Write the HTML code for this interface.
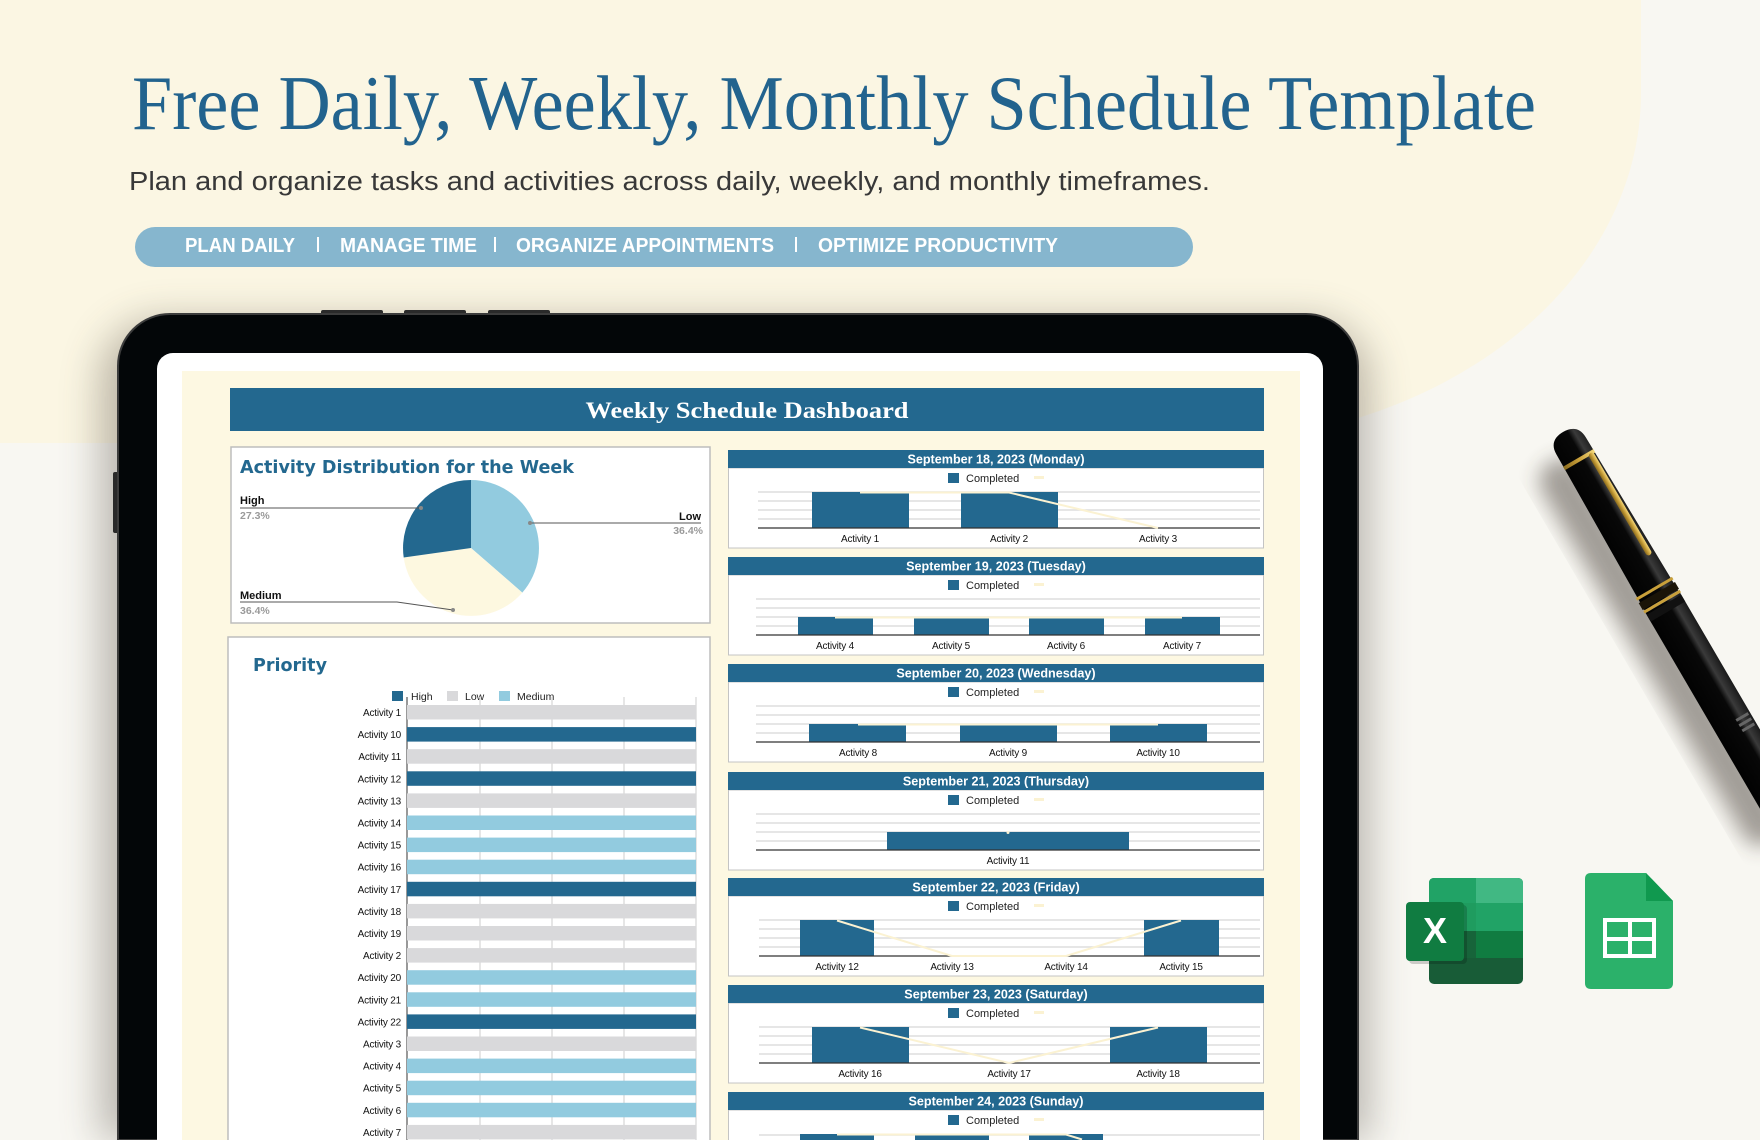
<!DOCTYPE html>
<html><head><meta charset="utf-8"><style>
html,body{margin:0;padding:0;background:#F8F7F2;width:1760px;height:1140px;overflow:hidden;}
#wrap{width:1760px;height:1140px;overflow:hidden;position:relative;}
svg{display:block;}
</style></head><body><div id="wrap">
<svg width="1760" height="1140" viewBox="0 0 1760 1140" xmlns="http://www.w3.org/2000/svg" overflow="hidden">
<defs>
<filter id="blur20" x="-20%" y="-20%" width="140%" height="140%"><feGaussianBlur stdDeviation="20"/></filter>
<filter id="blur10" x="-30%" y="-30%" width="160%" height="160%"><feGaussianBlur stdDeviation="10"/></filter>
<linearGradient id="gold" x1="0" y1="0" x2="0" y2="1"><stop offset="0" stop-color="#f3d77a"/><stop offset="0.5" stop-color="#c9a03a"/><stop offset="1" stop-color="#8a6a1c"/></linearGradient>
<linearGradient id="penbody" x1="0" y1="0" x2="0" y2="1"><stop offset="0" stop-color="#1a1a1a"/><stop offset="0.25" stop-color="#3a3a3a"/><stop offset="0.4" stop-color="#080808"/><stop offset="1" stop-color="#020202"/></linearGradient>
<clipPath id="frame"><rect x="0" y="0" width="1760" height="1140"/></clipPath>
</defs>

<!-- background -->
<rect x="0" y="0" width="1760" height="1140" fill="#F8F7F2"/>
<path d="M0,0 H1641 V93 A450,350 0 0 1 1191,443 H0 Z" fill="#FBF6E3"/>

<!-- heading -->
<text x="132" y="129" font-family="Liberation Serif, serif" font-size="77" fill="#22638E" textLength="1404" lengthAdjust="spacingAndGlyphs">Free Daily, Weekly, Monthly Schedule Template</text>
<text x="129" y="190" font-family="Liberation Sans, sans-serif" font-size="25.5" fill="#383838" textLength="1081" lengthAdjust="spacingAndGlyphs">Plan and organize tasks and activities across daily, weekly, and monthly timeframes.</text>

<!-- pill -->
<rect x="135" y="227" width="1058" height="40" rx="20" fill="#86B6CE"/>
<g font-family="Liberation Sans, sans-serif" font-weight="bold" font-size="20.5" fill="#ffffff">
<text x="185" y="252" textLength="110" lengthAdjust="spacingAndGlyphs">PLAN DAILY</text>
<text x="340" y="252" textLength="137" lengthAdjust="spacingAndGlyphs">MANAGE TIME</text>
<text x="516" y="252" textLength="258" lengthAdjust="spacingAndGlyphs">ORGANIZE APPOINTMENTS</text>
<text x="818" y="252" textLength="240" lengthAdjust="spacingAndGlyphs">OPTIMIZE PRODUCTIVITY</text>
</g>
<rect x="317" y="237" width="2" height="15" fill="#ffffff"/>
<rect x="494" y="237" width="2" height="15" fill="#ffffff"/>
<rect x="795" y="237" width="2" height="15" fill="#ffffff"/>

<g clip-path="url(#frame)">
<!-- tablet shadow -->
<path d="M100,380 A60,60 0 0 1 160,320 H1310 A60,60 0 0 1 1370,380 V1140 H100 Z" fill="#4a4038" opacity="0.35" filter="url(#blur20)"/>
</g>
<!-- tablet buttons -->
<rect x="321" y="310" width="62" height="6" rx="2" fill="#2a2a2a"/>
<rect x="404" y="310" width="62" height="6" rx="2" fill="#2a2a2a"/>
<rect x="488" y="310" width="62" height="6" rx="2" fill="#2a2a2a"/>
<rect x="113" y="472" width="7" height="61" rx="2" fill="#2a2a2a"/>
<!-- tablet -->
<path d="M118,366 A52,52 0 0 1 170,314 H1306 A52,52 0 0 1 1358,366 V1140 H118 Z" fill="#030608" stroke="#3c3c3c" stroke-width="2"/>
<path d="M157,369 A16,16 0 0 1 173,353 H1307 A16,16 0 0 1 1323,369 V1140 H157 Z" fill="#ffffff"/>
<rect x="182" y="371" width="1118" height="769" fill="#FDF8E2"/>

<!-- banner -->
<rect x="230" y="388" width="1034" height="43" fill="#23688F"/>
<text x="747" y="418" text-anchor="middle" font-family="Liberation Serif, serif" font-weight="bold" font-size="23" fill="#ffffff" textLength="323" lengthAdjust="spacingAndGlyphs">Weekly Schedule Dashboard</text>

<!-- pie panel -->
<rect x="231" y="447" width="479" height="176" fill="#ffffff" stroke="#bdbdbd" stroke-width="1.5"/>
<text x="240" y="473" font-family="DejaVu Sans, sans-serif" font-weight="bold" font-size="17.5" fill="#23688F" textLength="334" lengthAdjust="spacingAndGlyphs">Activity Distribution for the Week</text>
<path d="M471,548 L471,480 A68,68 0 0 1 522.3,592.6 Z" fill="#92CBDF"/>
<path d="M471,548 L522.3,592.6 A68,68 0 0 1 403.7,557.5 Z" fill="#FDF8E0"/>
<path d="M471,548 L403.7,557.5 A68,68 0 0 1 471,480 Z" fill="#23688F"/>
<g font-family="Liberation Sans, sans-serif" font-weight="bold">
<text x="240" y="504" font-size="11" fill="#111">High</text>
<text x="240" y="519" font-size="10.5" fill="#9a9a9a">27.3%</text>
<text x="701" y="520" font-size="11" fill="#111" text-anchor="end">Low</text>
<text x="703" y="534" font-size="10.5" fill="#9a9a9a" text-anchor="end">36.4%</text>
<text x="240" y="599" font-size="11" fill="#111">Medium</text>
<text x="240" y="614" font-size="10.5" fill="#9a9a9a">36.4%</text>
</g>
<polyline points="240,508 421,508" fill="none" stroke="#555" stroke-width="1"/>
<circle cx="421" cy="508" r="2" fill="#888"/>
<polyline points="530,523 701,523" fill="none" stroke="#555" stroke-width="1"/>
<circle cx="530" cy="523" r="2" fill="#888"/>
<polyline points="240,602 397,602 453,610" fill="none" stroke="#555" stroke-width="1"/>
<circle cx="453" cy="610" r="2" fill="#888"/>

<!-- priority panel -->
<rect x="228" y="637" width="482" height="503" fill="#ffffff"/>
<polyline points="228,1140 228,637 710,637 710,1140" fill="none" stroke="#bdbdbd" stroke-width="1.5"/>
<text x="253" y="671" font-family="DejaVu Sans, sans-serif" font-weight="bold" font-size="17.5" fill="#23688F" textLength="74" lengthAdjust="spacingAndGlyphs">Priority</text>
<rect x="392" y="691" width="11" height="10" fill="#23688F"/>
<rect x="447" y="691" width="11" height="10" fill="#D9D9DB"/>
<rect x="499" y="691" width="11" height="10" fill="#92CBDF"/>
<g font-family="Liberation Sans, sans-serif" font-size="10.5" fill="#222">
<text x="411" y="700">High</text>
<text x="465" y="700">Low</text>
<text x="517" y="700">Medium</text>
</g>
<g stroke="#dddddd" stroke-width="1.5">
<line x1="480" y1="697" x2="480" y2="1140"/>
<line x1="552" y1="697" x2="552" y2="1140"/>
<line x1="624" y1="697" x2="624" y2="1140"/>
<line x1="696" y1="697" x2="696" y2="1140"/>
</g>
<line x1="407" y1="697" x2="407" y2="1140" stroke="#333" stroke-width="1"/>
<g>
<rect x="407" y="705" width="289" height="14.5" fill="#D9D9DB"/>
<rect x="407" y="727.1" width="289" height="14.5" fill="#23688F"/>
<rect x="407" y="749.2" width="289" height="14.5" fill="#D9D9DB"/>
<rect x="407" y="771.3" width="289" height="14.5" fill="#23688F"/>
<rect x="407" y="793.4" width="289" height="14.5" fill="#D9D9DB"/>
<rect x="407" y="815.5" width="289" height="14.5" fill="#92CBDF"/>
<rect x="407" y="837.6" width="289" height="14.5" fill="#92CBDF"/>
<rect x="407" y="859.7" width="289" height="14.5" fill="#92CBDF"/>
<rect x="407" y="881.8" width="289" height="14.5" fill="#23688F"/>
<rect x="407" y="903.9" width="289" height="14.5" fill="#D9D9DB"/>
<rect x="407" y="926" width="289" height="14.5" fill="#D9D9DB"/>
<rect x="407" y="948.1" width="289" height="14.5" fill="#D9D9DB"/>
<rect x="407" y="970.2" width="289" height="14.5" fill="#92CBDF"/>
<rect x="407" y="992.3" width="289" height="14.5" fill="#92CBDF"/>
<rect x="407" y="1014.4" width="289" height="14.5" fill="#23688F"/>
<rect x="407" y="1036.5" width="289" height="14.5" fill="#D9D9DB"/>
<rect x="407" y="1058.6" width="289" height="14.5" fill="#92CBDF"/>
<rect x="407" y="1080.7" width="289" height="14.5" fill="#92CBDF"/>
<rect x="407" y="1102.8" width="289" height="14.5" fill="#92CBDF"/>
<rect x="407" y="1124.9" width="289" height="14.5" fill="#D9D9DB"/>
</g>
<g font-family="Liberation Sans, sans-serif" font-size="10" fill="#111" text-anchor="end" letter-spacing="-0.2">
<text x="401" y="716">Activity 1</text>
<text x="401" y="738.1">Activity 10</text>
<text x="401" y="760.2">Activity 11</text>
<text x="401" y="782.3">Activity 12</text>
<text x="401" y="804.4">Activity 13</text>
<text x="401" y="826.5">Activity 14</text>
<text x="401" y="848.6">Activity 15</text>
<text x="401" y="870.7">Activity 16</text>
<text x="401" y="892.8">Activity 17</text>
<text x="401" y="914.9">Activity 18</text>
<text x="401" y="937">Activity 19</text>
<text x="401" y="959.1">Activity 2</text>
<text x="401" y="981.2">Activity 20</text>
<text x="401" y="1003.3">Activity 21</text>
<text x="401" y="1025.4">Activity 22</text>
<text x="401" y="1047.5">Activity 3</text>
<text x="401" y="1069.6">Activity 4</text>
<text x="401" y="1091.7">Activity 5</text>
<text x="401" y="1113.8">Activity 6</text>
<text x="401" y="1135.9">Activity 7</text>
</g>

<!-- DAY PANELS -->
<!-- Monday H=450 -->
<g transform="translate(0,450)">
<rect x="728.5" y="18" width="535" height="80" fill="#fff" stroke="#c4c4c4"/>
<rect x="728" y="0" width="536" height="18" fill="#23688F"/>
<text x="996" y="13.5" text-anchor="middle" font-family="Liberation Sans, sans-serif" font-weight="bold" font-size="12.6" fill="#fff">September 18, 2023 (Monday)</text>
<rect x="948" y="23" width="11" height="10" fill="#23688F"/><text x="966" y="32" font-family="Liberation Sans, sans-serif" font-size="11" fill="#222">Completed</text><line x1="1034" y1="27.5" x2="1044" y2="27.5" stroke="#FBF2D2" stroke-width="3"/>
<g stroke="#dedede" stroke-width="1.6"><line x1="758" y1="42" x2="1260" y2="42"/><line x1="758" y1="51" x2="1260" y2="51"/><line x1="758" y1="60" x2="1260" y2="60"/><line x1="758" y1="69" x2="1260" y2="69"/></g>
<rect x="812" y="42" width="97" height="36" fill="#23688F"/><rect x="961" y="42" width="97" height="36" fill="#23688F"/>
<line x1="758" y1="78" x2="1260" y2="78" stroke="#333" stroke-width="1.3"/>
<polyline points="860,42.5 1009,42.5 1158,78" fill="none" stroke="#FBF2D2" stroke-width="2"/>
<g font-family="Liberation Sans, sans-serif" font-size="10" fill="#111" text-anchor="middle" letter-spacing="-0.2"><text x="860" y="92">Activity 1</text><text x="1009" y="92">Activity 2</text><text x="1158" y="92">Activity 3</text></g>
</g>
<!-- Tuesday H=557 -->
<g transform="translate(0,557)">
<rect x="728.5" y="18" width="535" height="80" fill="#fff" stroke="#c4c4c4"/>
<rect x="728" y="0" width="536" height="18" fill="#23688F"/>
<text x="996" y="13.5" text-anchor="middle" font-family="Liberation Sans, sans-serif" font-weight="bold" font-size="12.6" fill="#fff">September 19, 2023 (Tuesday)</text>
<rect x="948" y="23" width="11" height="10" fill="#23688F"/><text x="966" y="32" font-family="Liberation Sans, sans-serif" font-size="11" fill="#222">Completed</text><line x1="1034" y1="27.5" x2="1044" y2="27.5" stroke="#FBF2D2" stroke-width="3"/>
<g stroke="#dedede" stroke-width="1.6"><line x1="756" y1="42" x2="1260" y2="42"/><line x1="756" y1="51" x2="1260" y2="51"/><line x1="756" y1="60" x2="1260" y2="60"/><line x1="756" y1="69" x2="1260" y2="69"/></g>
<rect x="798" y="60" width="75" height="18" fill="#23688F"/><rect x="914" y="60" width="75" height="18" fill="#23688F"/><rect x="1029" y="60" width="75" height="18" fill="#23688F"/><rect x="1145" y="60" width="75" height="18" fill="#23688F"/>
<line x1="756" y1="78" x2="1260" y2="78" stroke="#333" stroke-width="1.3"/>
<polyline points="835,60.5 1182,60.5" fill="none" stroke="#FBF2D2" stroke-width="2"/>
<g font-family="Liberation Sans, sans-serif" font-size="10" fill="#111" text-anchor="middle" letter-spacing="-0.2"><text x="835" y="92">Activity 4</text><text x="951" y="92">Activity 5</text><text x="1066" y="92">Activity 6</text><text x="1182" y="92">Activity 7</text></g>
</g>
<!-- Wednesday H=664 -->
<g transform="translate(0,664)">
<rect x="728.5" y="18" width="535" height="80" fill="#fff" stroke="#c4c4c4"/>
<rect x="728" y="0" width="536" height="18" fill="#23688F"/>
<text x="996" y="13.5" text-anchor="middle" font-family="Liberation Sans, sans-serif" font-weight="bold" font-size="12.6" fill="#fff">September 20, 2023 (Wednesday)</text>
<rect x="948" y="23" width="11" height="10" fill="#23688F"/><text x="966" y="32" font-family="Liberation Sans, sans-serif" font-size="11" fill="#222">Completed</text><line x1="1034" y1="27.5" x2="1044" y2="27.5" stroke="#FBF2D2" stroke-width="3"/>
<g stroke="#dedede" stroke-width="1.6"><line x1="756" y1="42" x2="1260" y2="42"/><line x1="756" y1="51" x2="1260" y2="51"/><line x1="756" y1="60" x2="1260" y2="60"/><line x1="756" y1="69" x2="1260" y2="69"/></g>
<rect x="809" y="60" width="97" height="18" fill="#23688F"/><rect x="960" y="60" width="97" height="18" fill="#23688F"/><rect x="1110" y="60" width="97" height="18" fill="#23688F"/>
<line x1="756" y1="78" x2="1260" y2="78" stroke="#333" stroke-width="1.3"/>
<polyline points="858,60.5 1158,60.5" fill="none" stroke="#FBF2D2" stroke-width="2"/>
<g font-family="Liberation Sans, sans-serif" font-size="10" fill="#111" text-anchor="middle" letter-spacing="-0.2"><text x="858" y="92">Activity 8</text><text x="1008" y="92">Activity 9</text><text x="1158" y="92">Activity 10</text></g>
</g>
<!-- Thursday H=772 -->
<g transform="translate(0,772)">
<rect x="728.5" y="18" width="535" height="80" fill="#fff" stroke="#c4c4c4"/>
<rect x="728" y="0" width="536" height="18" fill="#23688F"/>
<text x="996" y="13.5" text-anchor="middle" font-family="Liberation Sans, sans-serif" font-weight="bold" font-size="12.6" fill="#fff">September 21, 2023 (Thursday)</text>
<rect x="948" y="23" width="11" height="10" fill="#23688F"/><text x="966" y="32" font-family="Liberation Sans, sans-serif" font-size="11" fill="#222">Completed</text><line x1="1034" y1="27.5" x2="1044" y2="27.5" stroke="#FBF2D2" stroke-width="3"/>
<g stroke="#dedede" stroke-width="1.6"><line x1="756" y1="42" x2="1260" y2="42"/><line x1="756" y1="51" x2="1260" y2="51"/><line x1="756" y1="60" x2="1260" y2="60"/><line x1="756" y1="69" x2="1260" y2="69"/></g>
<rect x="887" y="60" width="242" height="18" fill="#23688F"/>
<line x1="756" y1="78" x2="1260" y2="78" stroke="#333" stroke-width="1.3"/>
<circle cx="1008" cy="60.5" r="1.5" fill="#FBF2D2"/>
<g font-family="Liberation Sans, sans-serif" font-size="10" fill="#111" text-anchor="middle" letter-spacing="-0.2"><text x="1008" y="92">Activity 11</text></g>
</g>
<!-- Friday H=878 -->
<g transform="translate(0,878)">
<rect x="728.5" y="18" width="535" height="80" fill="#fff" stroke="#c4c4c4"/>
<rect x="728" y="0" width="536" height="18" fill="#23688F"/>
<text x="996" y="13.5" text-anchor="middle" font-family="Liberation Sans, sans-serif" font-weight="bold" font-size="12.6" fill="#fff">September 22, 2023 (Friday)</text>
<rect x="948" y="23" width="11" height="10" fill="#23688F"/><text x="966" y="32" font-family="Liberation Sans, sans-serif" font-size="11" fill="#222">Completed</text><line x1="1034" y1="27.5" x2="1044" y2="27.5" stroke="#FBF2D2" stroke-width="3"/>
<g stroke="#dedede" stroke-width="1.6"><line x1="759" y1="42" x2="1260" y2="42"/><line x1="759" y1="51" x2="1260" y2="51"/><line x1="759" y1="60" x2="1260" y2="60"/><line x1="759" y1="69" x2="1260" y2="69"/></g>
<rect x="800" y="42" width="74" height="36" fill="#23688F"/><rect x="1144" y="42" width="75" height="36" fill="#23688F"/>
<line x1="759" y1="78" x2="1260" y2="78" stroke="#333" stroke-width="1.3"/>
<polyline points="837,42.5 952,78 1066,78 1181,42.5" fill="none" stroke="#FBF2D2" stroke-width="2"/>
<g font-family="Liberation Sans, sans-serif" font-size="10" fill="#111" text-anchor="middle" letter-spacing="-0.2"><text x="837" y="92">Activity 12</text><text x="952" y="92">Activity 13</text><text x="1066" y="92">Activity 14</text><text x="1181" y="92">Activity 15</text></g>
</g>
<!-- Saturday H=985 -->
<g transform="translate(0,985)">
<rect x="728.5" y="18" width="535" height="80" fill="#fff" stroke="#c4c4c4"/>
<rect x="728" y="0" width="536" height="18" fill="#23688F"/>
<text x="996" y="13.5" text-anchor="middle" font-family="Liberation Sans, sans-serif" font-weight="bold" font-size="12.6" fill="#fff">September 23, 2023 (Saturday)</text>
<rect x="948" y="23" width="11" height="10" fill="#23688F"/><text x="966" y="32" font-family="Liberation Sans, sans-serif" font-size="11" fill="#222">Completed</text><line x1="1034" y1="27.5" x2="1044" y2="27.5" stroke="#FBF2D2" stroke-width="3"/>
<g stroke="#dedede" stroke-width="1.6"><line x1="759" y1="42" x2="1260" y2="42"/><line x1="759" y1="51" x2="1260" y2="51"/><line x1="759" y1="60" x2="1260" y2="60"/><line x1="759" y1="69" x2="1260" y2="69"/></g>
<rect x="812" y="42" width="97" height="36" fill="#23688F"/><rect x="1110" y="42" width="97" height="36" fill="#23688F"/>
<line x1="759" y1="78" x2="1260" y2="78" stroke="#333" stroke-width="1.3"/>
<polyline points="860,42.5 1009,78 1158,42.5" fill="none" stroke="#FBF2D2" stroke-width="2"/>
<g font-family="Liberation Sans, sans-serif" font-size="10" fill="#111" text-anchor="middle" letter-spacing="-0.2"><text x="860" y="92">Activity 16</text><text x="1009" y="92">Activity 17</text><text x="1158" y="92">Activity 18</text></g>
</g>
<!-- Sunday H=1092 -->
<g transform="translate(0,1092)">
<rect x="728.5" y="18" width="535" height="30" fill="#fff"/>
<polyline points="728.5,48 728.5,18 1263.5,18 1263.5,48" fill="none" stroke="#c4c4c4"/>
<rect x="728" y="0" width="536" height="18" fill="#23688F"/>
<text x="996" y="13.5" text-anchor="middle" font-family="Liberation Sans, sans-serif" font-weight="bold" font-size="12.6" fill="#fff">September 24, 2023 (Sunday)</text>
<rect x="948" y="23" width="11" height="10" fill="#23688F"/><text x="966" y="32" font-family="Liberation Sans, sans-serif" font-size="11" fill="#222">Completed</text><line x1="1034" y1="27.5" x2="1044" y2="27.5" stroke="#FBF2D2" stroke-width="3"/>
<line x1="759" y1="43" x2="1260" y2="43" stroke="#dedede" stroke-width="1.6"/>
<rect x="800" y="42" width="74" height="6" fill="#23688F"/><rect x="915" y="42" width="74" height="6" fill="#23688F"/><rect x="1029" y="42" width="74" height="6" fill="#23688F"/>
<polyline points="837,42.5 1066,42.5 1082,47.5" fill="none" stroke="#FBF2D2" stroke-width="2"/>
</g>

<!-- Pen -->
<g clip-path="url(#frame)">
<g transform="translate(1563,432) rotate(59.7)">
  <rect x="20" y="4" width="440" height="44" rx="20" fill="#3a332c" opacity="0.45" filter="url(#blur10)"/>
  <path d="M16,-17 C3,-17 0,-8 0,0 C0,8 3,17 16,17 L195,19.5 L195,-19.5 Z" fill="url(#penbody)"/>
  <rect x="30" y="-17.5" width="4" height="35" fill="url(#gold)"/>
  <rect x="32" y="-16" width="118" height="6" rx="3" fill="url(#gold)"/>
  <rect x="180" y="-21" width="3" height="42" fill="#c9a03a"/>
  <rect x="186" y="-21" width="8" height="42" fill="#1a1408"/>
  <rect x="195" y="-21" width="3" height="42" fill="#c9a03a"/>
  <rect x="198" y="-20" width="250" height="40" fill="url(#penbody)"/>
  <rect x="200" y="-20" width="8" height="40" fill="#111"/>
  <rect x="335" y="-18" width="3" height="14" fill="#666"/>
  <rect x="341" y="-18" width="3" height="14" fill="#666"/>
  <rect x="347" y="-18" width="3" height="14" fill="#666"/>
</g>
</g>

<!-- Excel icon -->
<g>
  <rect x="1429" y="878" width="94" height="106" rx="5" fill="#185C37"/>
  <path d="M1434,878 H1476 V903 H1429 V883 Q1429,878 1434,878 Z" fill="#21A366"/>
  <path d="M1476,878 H1518 Q1523,878 1523,883 V903 H1476 Z" fill="#41B883"/>
  <rect x="1429" y="903" width="47" height="28" fill="#1F9C5F"/>
  <rect x="1476" y="903" width="47" height="28" fill="#21A366"/>
  <rect x="1429" y="931" width="47" height="27" fill="#17643A"/>
  <rect x="1476" y="931" width="47" height="27" fill="#107C41"/>
  <rect x="1409" y="905" width="58" height="59" rx="4" fill="#000" opacity="0.18"/>
  <rect x="1406" y="902" width="58" height="59" rx="4" fill="#107C41"/>
  <text x="1435" y="943" text-anchor="middle" font-family="Liberation Sans, sans-serif" font-weight="bold" font-size="36" fill="#ffffff">X</text>
</g>
<!-- Sheets icon -->
<g>
  <path d="M1591,873 H1646 L1673,901 V983 Q1673,989 1667,989 H1591 Q1585,989 1585,983 V879 Q1585,873 1591,873 Z" fill="#2BB16A"/>
  <path d="M1646,873 L1673,901 H1646 Z" fill="#10994F"/>
  <rect x="1603" y="918" width="53" height="40" fill="#ffffff"/>
  <rect x="1607" y="922" width="21" height="15" fill="#2BB16A"/>
  <rect x="1632" y="922" width="20" height="15" fill="#2BB16A"/>
  <rect x="1607" y="941" width="21" height="13" fill="#2BB16A"/>
  <rect x="1632" y="941" width="20" height="13" fill="#2BB16A"/>
</g>
</svg>
</div></body></html>
